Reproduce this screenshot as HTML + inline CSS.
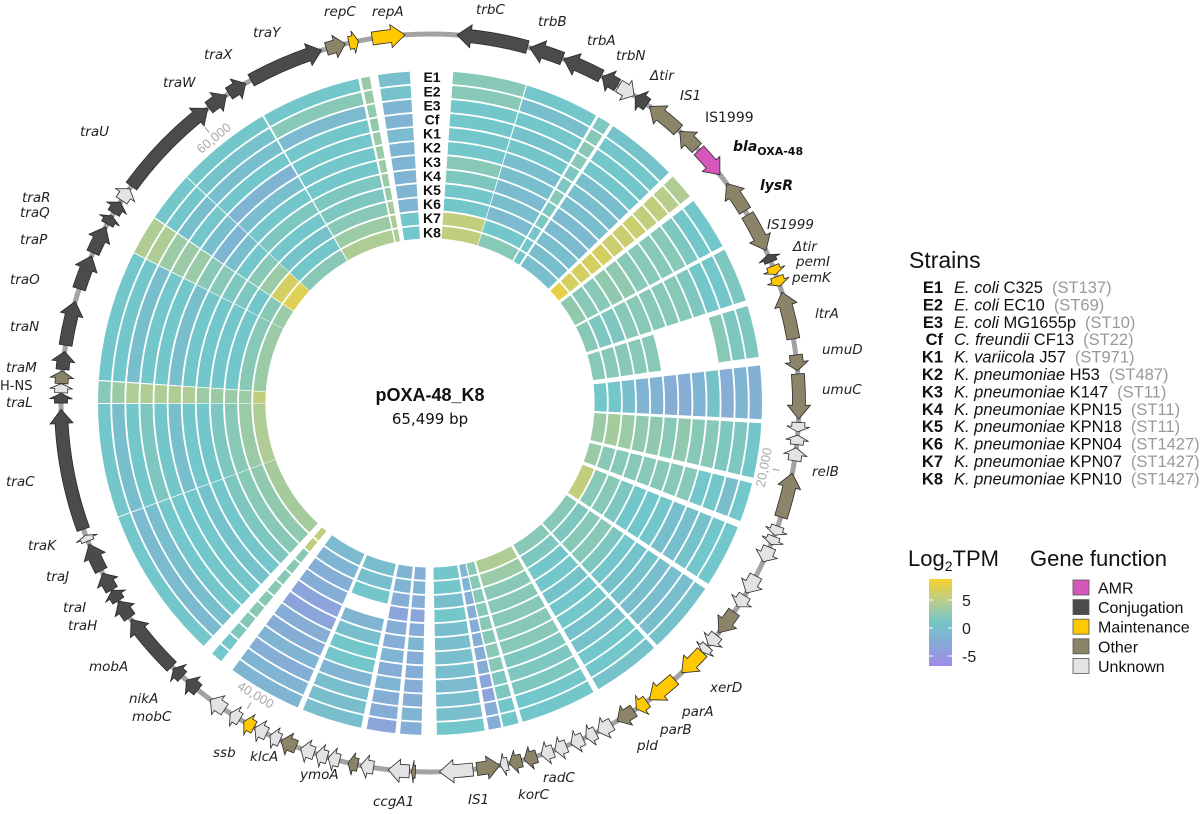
<!DOCTYPE html>
<html><head><meta charset="utf-8">
<style>
html,body{margin:0;padding:0;background:#fff;}
svg{display:block;font-family:"Liberation Sans",sans-serif;}
.gl{font-family:"DejaVu Sans","Liberation Sans",sans-serif;font-style:italic;font-size:13.5px;fill:#222;}
</style></head>
<body>
<svg id="chart" width="1200" height="814" viewBox="0 0 1200 814" xmlns="http://www.w3.org/2000/svg">
<g id="heat"></g>
<g id="track"></g>
<g id="ticks"></g>
<g id="rowlabels"></g>

<text x="430" y="401" text-anchor="middle" font-size="18" font-weight="bold" fill="#111">pOXA-48_K8</text>
<text x="430" y="424" text-anchor="middle" font-size="15" fill="#111" font-family="DejaVu Sans, Liberation Sans, sans-serif">65,499 bp</text>

<g>
<text class="gl" x="324" y="16">repC</text>
<text class="gl" x="372" y="16">repA</text>
<text class="gl" x="476" y="14">trbC</text>
<text class="gl" x="538" y="26">trbB</text>
<text class="gl" x="587" y="45">trbA</text>
<text class="gl" x="616" y="60">trbN</text>
<text class="gl" x="650" y="80">Δtir</text>
<text class="gl" x="680" y="100">IS1</text>
<text x="705" y="122" font-size="14" fill="#222" font-family="DejaVu Sans, Liberation Sans, sans-serif">IS1999</text>
<text x="733" y="151" font-size="14" font-weight="bold" font-style="italic" fill="#111" font-family="DejaVu Sans, Liberation Sans, sans-serif">bla<tspan font-size="11" font-style="normal" dy="4">OXA-48</tspan></text>
<text x="760" y="190" font-size="14" font-weight="bold" font-style="italic" fill="#111" font-family="DejaVu Sans, Liberation Sans, sans-serif">lysR</text>
<text class="gl" x="767" y="229">IS1999</text>
<text class="gl" x="793" y="251">Δtir</text>
<text class="gl" x="796" y="266">pemI</text>
<text class="gl" x="792" y="282">pemK</text>
<text class="gl" x="815" y="318">ltrA</text>
<text class="gl" x="822" y="354">umuD</text>
<text class="gl" x="822" y="394">umuC</text>
<text class="gl" x="812" y="476">relB</text>
<text class="gl" x="710" y="692">xerD</text>
<text class="gl" x="682" y="716">parA</text>
<text class="gl" x="660" y="734">parB</text>
<text class="gl" x="637" y="750">pld</text>
<text class="gl" x="543" y="782">radC</text>
<text class="gl" x="518" y="799">korC</text>
<text class="gl" x="468" y="804">IS1</text>
<text class="gl" x="373" y="806">ccgA1</text>
<text class="gl" x="300" y="779">ymoA</text>
<text class="gl" x="250" y="761">klcA</text>
<text class="gl" x="213" y="757">ssb</text>
<text class="gl" x="129" y="703">nikA</text>
<text class="gl" x="132" y="721">mobC</text>
<text class="gl" x="89" y="671">mobA</text>
<text class="gl" x="68" y="630">traH</text>
<text class="gl" x="63" y="612">traI</text>
<text class="gl" x="46" y="581">traJ</text>
<text class="gl" x="28" y="550">traK</text>
<text class="gl" x="6" y="486">traC</text>
<text class="gl" x="6" y="407">traL</text>
<text x="0" y="390" font-size="13" fill="#222" font-family="DejaVu Sans, Liberation Sans, sans-serif">H-NS</text>
<text class="gl" x="6" y="372">traM</text>
<text class="gl" x="10" y="331">traN</text>
<text class="gl" x="10" y="284">traO</text>
<text class="gl" x="20" y="244">traP</text>
<text class="gl" x="20" y="217">traQ</text>
<text class="gl" x="22" y="202">traR</text>
<text class="gl" x="80" y="136">traU</text>
<text class="gl" x="163" y="87">traW</text>
<text class="gl" x="204" y="59">traX</text>
<text class="gl" x="253" y="37">traY</text>
</g>

<g>
<text x="909" y="268" font-size="23" fill="#111">Strains</text>
<g id="strainRows"></g>
</g>

<g>
<text x="908" y="566" font-size="22" fill="#111">Log<tspan font-size="14" dy="5">2</tspan><tspan dy="-5">TPM</tspan></text>
<defs><linearGradient id="cbg" x1="0" y1="0" x2="0" y2="1">
<stop offset="0" stop-color="#f8d22a"/><stop offset="0.25" stop-color="#b9cd8b"/><stop offset="0.5" stop-color="#73c6c9"/><stop offset="0.75" stop-color="#88a9d8"/><stop offset="1" stop-color="#9e8ce8"/></linearGradient></defs>
<rect x="929" y="579" width="23" height="87" fill="url(#cbg)"/>
<g stroke="#fff" stroke-width="1"><line x1="929" y1="600" x2="933" y2="600"/><line x1="948" y1="600" x2="952" y2="600"/><line x1="929" y1="628" x2="933" y2="628"/><line x1="948" y1="628" x2="952" y2="628"/><line x1="929" y1="656" x2="933" y2="656"/><line x1="948" y1="656" x2="952" y2="656"/></g>
<text x="962" y="606" font-size="16" fill="#222">5</text>
<text x="962" y="634" font-size="16" fill="#222">0</text>
<text x="962" y="662" font-size="16" fill="#222">-5</text>
</g>

<g>
<text x="1030" y="566" font-size="22" fill="#111">Gene function</text>
<g id="funcLegend"></g>
</g>
</svg>
<script>
// ---------------- data ----------------
const genomeLength = 65499;
const strainCodes = ["E1","E2","E3","Cf","K1","K2","K3","K4","K5","K6","K7","K8"];
const strainSpecies = ["E. coli","E. coli","E. coli","C. freundii","K. variicola","K. pneumoniae","K. pneumoniae","K. pneumoniae","K. pneumoniae","K. pneumoniae","K. pneumoniae","K. pneumoniae"];
const strainIds = ["C325","EC10","MG1655p","CF13","J57","H53","K147","KPN15","KPN18","KPN04","KPN07","KPN10"];
const strainST = ["(ST137)","(ST69)","(ST10)","(ST22)","(ST971)","(ST487)","(ST11)","(ST11)","(ST11)","(ST1427)","(ST1427)","(ST1427)"];

const funcNames = ["AMR","Conjugation","Maintenance","Other","Unknown"];
const funcColors = ["#d457b9","#4b4b4b","#ffc800","#8c8469","#e3e3e3"];

// genes (kb), strand, function index
const geneStart = [0.00,2.40,4.49,5.50,6.70,7.24,7.79,8.28,9.39,10.15,11.37,12.44,13.70,14.05,14.37,14.83,16.65,17.19,18.56,18.92,19.28,20.01,21.56,21.87,22.20,23.10,23.74,24.29,25.11,25.51,25.74,26.84,27.84,28.29,29.02,29.53,29.93,30.44,30.84,31.33,31.77,32.17,32.40,33.17,34.80,34.97,35.99,36.44,36.97,37.33,37.72,38.26,38.75,39.17,39.57,40.03,40.54,41.48,42.06,42.47,44.30,44.87,45.23,45.85,46.76,47.12,50.76,51.05,51.31,51.71,52.40,54.04,55.13,56.04,56.40,56.82,57.31,60.44,61.13,61.86,64.17,64.83];
const geneEnd   = [0.93,4.42,5.46,6.66,7.19,7.75,8.19,9.33,10.06,11.06,12.30,13.57,13.92,14.30,14.65,16.19,17.10,18.47,18.83,19.19,19.65,21.29,21.83,22.11,22.65,23.65,24.11,25.02,25.47,25.74,26.56,27.75,28.20,28.84,29.47,29.84,30.30,30.79,31.20,31.70,32.13,32.39,33.06,34.12,34.91,35.57,36.36,36.72,37.30,37.66,38.12,38.72,39.06,39.54,39.90,40.35,41.03,41.90,42.39,44.23,44.85,45.21,45.76,46.67,46.94,50.58,51.03,51.31,51.67,52.22,53.67,55.04,55.95,56.31,56.76,57.22,60.40,61.04,61.68,64.03,64.72,65.10];
const geneStrand = [1,-1,-1,-1,-1,1,-1,-1,-1,1,-1,1,-1,1,1,-1,1,1,1,-1,-1,-1,1,1,1,1,1,1,1,1,1,1,1,1,1,1,1,1,1,1,1,1,-1,1,1,1,1,1,1,1,1,1,1,1,1,1,1,1,1,1,1,1,1,1,1,1,1,1,1,1,1,1,1,1,1,1,1,1,1,1,1,1];
const geneFunc = [2,1,1,1,1,4,1,3,3,0,3,3,1,2,2,3,3,3,4,4,4,3,4,4,4,4,4,3,4,4,2,2,2,3,4,4,4,4,4,3,3,4,3,4,3,4,4,3,4,4,4,3,4,4,2,4,4,1,1,1,1,1,1,1,4,1,1,4,3,1,1,1,1,1,1,4,1,1,1,1,3,2];

// heatmap blocks (kb) and log2 TPM values per strain ring (E1..K8), null = not measured
const blockStart = [0.00,64.95,61.68,58.58,56.95,55.67,51.49,50.76,47.12,42.21,41.48,38.66,36.57,35.48,34.66,32.66,32.13,31.57,29.02,26.66,24.20,22.01,20.56,18.65,16.83,14.92,13.01,11.19,10.19,7.73,7.19,4.73,2.37];
const blockEnd   = [1.00,65.23,64.86,61.62,58.55,56.91,55.64,51.45,50.73,47.09,41.85,41.03,38.48,36.39,35.33,34.17,32.53,32.06,31.44,28.84,26.53,24.02,21.80,20.38,18.52,16.56,14.74,12.88,11.01,10.01,7.61,7.10,4.69];
const blockValues = [
 [-1,-0.5,-2,-2,-1.5,-2,-2,-2,-2,-2,0,0],
 [2,2,1.5,1.5,2,2,2,2,2,2.5,3,3],
 [0,1,-1.5,0,0,0,0,0.5,0.5,1,2,3],
 [0,-0.5,-1,0,-2,-1,0,0.5,0,-0.5,0,1],
 [0,0,-1,0,-1,-2,-1,0,1,2,5,5.5],
 [3,3,2,2,2,1,1,0.5,0.5,0,1,2],
 [0,0,-1,0,0,-1,0,0,0,0,1,2],
 [1,2,3,3,3,3,3,2,2,2,2,4],
 [0,-1,0,0.5,0,-1,0,0,0.5,1,2,3],
 [0,-1.5,-1,0,0,0,-0.5,0,0.5,1,1.5,2.5],
 [0,0,0.5,1,1,1,1,1,1,1,4,4],
 [-2,-2,-3,-2,-3,-3,-4,-4,-3,-3,-2,-1.5],
 [-1,-1,-1,-2,0,0,-1,-2,null,0,-1,-1],
 [-4,-3,-3,-2,-3,-2,-3,-3,-4,-3,-2,-2],
 [-3,-2,-3,-3,-3,-3,-2,-3,-4,-3,-2,-3],
 [0,-1,-1,-1.5,-1,-1,-1,-1,0,-1,0,0],
 [-3,-3,-4,-4,-3,-3,-3,-3,-3,-3,-2,-2],
 [0,0,0.5,0.5,1,1,1,1,1,1,1,1],
 [0,0,0.5,0.5,0.5,1,1,1,1,1,2,3],
 [-0.5,0,0,-0.5,-0.5,0,0,-0.5,0,0,0.5,1],
 [-0.5,-1,-1,-1,-0.5,-0.5,0,0.5,1,1,0.5,1],
 [0,0,-0.5,-1,-1,0,0,0,0.5,1,1,4],
 [0,-1,0,0,1,1,1,1,1,1,1,2],
 [0,0.5,0.5,1,1,1.5,1,1.5,1.5,2,2.5,2],
 [-2.5,-2,-3,-0.5,-2,-3,-3,-2,-2,-1,0,0],
 [0.5,0.5,1,null,null,null,null,1,1,1,1,1],
 [0.5,0,0,0.5,1,1,1,1,1,0.5,0.5,1],
 [0,0,0.5,1,1,1,1,1.5,1.5,1,1,1.5],
 [3,3.5,4,4,4.5,4.5,4.5,5,5,5,5,6],
 [-0.5,0,0,0,-1,-1,-1,-1.5,-1.5,-1,-1,-1],
 [0.5,1,1,1,0.5,0.5,1,0.5,0.5,0,0,0],
 [0,-1,0,-0.5,0,-1,-1,-1.5,-1,-1.5,0,1],
 [1,1,0,0,0,0,1,0.5,0,0,4,4]
];
const tickValues = [20000,40000,60000];
const tickLabels = ["20,000","40,000","60,000"];

// ---------------- geometry ----------------
const NS = "http://www.w3.org/2000/svg";
const CX = 430, CY = 403, RTRACK = 369, ROUT = 332, RPITCH = 14.1, RTHICK = 12.3;
const ANGLE_OFFSET = -9;
function angleOf(kb){ return kb*1000/genomeLength*360 + ANGLE_OFFSET; }
function pt(r,a){ const t=a*Math.PI/180; return [CX + r*Math.sin(t), CY - r*Math.cos(t)]; }
function f(p){ return p[0].toFixed(2)+","+p[1].toFixed(2); }
function sector(r0,r1,a0,a1){
  const large = (a1-a0)>180?1:0;
  return "M"+f(pt(r1,a0))+" A"+r1+","+r1+" 0 "+large+" 1 "+f(pt(r1,a1))+
         " L"+f(pt(r0,a1))+" A"+r0+","+r0+" 0 "+large+" 0 "+f(pt(r0,a0))+" Z";
}
const stops = [[-7,[158,140,232]],[-3.5,[136,169,216]],[0,[115,198,201]],[3.5,[185,205,139]],[7,[248,210,42]]];
function colorOf(v){
  v=Math.max(-7,Math.min(7,v));
  for(let i=0;i<stops.length-1;i++){
    const a=stops[i],b=stops[i+1];
    if(v<=b[0]){const t=(v-a[0])/(b[0]-a[0]);
      const c=a[1].map((x,k)=>Math.round(x+(b[1][k]-x)*t));
      return "rgb("+c.join(",")+")";}
  }
  return "rgb(248,210,42)";
}

// heatmap
const heat = document.getElementById("heat");
blockStart.forEach((s,bi)=>{
  const a0 = angleOf(s), a1 = angleOf(blockEnd[bi]);
  blockValues[bi].forEach((v,ri)=>{
    if(v===null) return;
    const r1 = ROUT - ri*RPITCH, r0 = r1 - RTHICK;
    const p = document.createElementNS(NS,"path");
    p.setAttribute("d", sector(r0,r1,a0,a1));
    p.setAttribute("fill", colorOf(v));
    
    
    heat.appendChild(p);
  });
});

// track + genes
const track = document.getElementById("track");
const circ = document.createElementNS(NS,"circle");
circ.setAttribute("cx",CX); circ.setAttribute("cy",CY); circ.setAttribute("r",RTRACK);
circ.setAttribute("fill","none"); circ.setAttribute("stroke","#a3a3a3"); circ.setAttribute("stroke-width","5");


track.appendChild(circ);

geneStart.forEach((s,gi)=>{
  const a0 = angleOf(s), a1 = angleOf(geneEnd[gi]);
  const span = a1-a0;
  const headDeg = Math.min(14/RTRACK*180/Math.PI, span*0.55);
  const bw=6.5, hw=11.5, r=RTRACK;
  let d;
  if(geneStrand[gi]>0){
    const ah=a1-headDeg;
    d="M"+f(pt(r+bw,a0))+" A"+(r+bw)+","+(r+bw)+" 0 0 1 "+f(pt(r+bw,ah))+" L"+f(pt(r+hw,ah))+" L"+f(pt(r,a1))+" L"+f(pt(r-hw,ah))+" L"+f(pt(r-bw,ah))+" A"+(r-bw)+","+(r-bw)+" 0 0 0 "+f(pt(r-bw,a0))+" Z";
  } else {
    const ah=a0+headDeg;
    d="M"+f(pt(r+bw,a1))+" A"+(r+bw)+","+(r+bw)+" 0 0 0 "+f(pt(r+bw,ah))+" L"+f(pt(r+hw,ah))+" L"+f(pt(r,a0))+" L"+f(pt(r-hw,ah))+" L"+f(pt(r-bw,ah))+" A"+(r-bw)+","+(r-bw)+" 0 0 1 "+f(pt(r-bw,a1))+" Z";
  }
  const p=document.createElementNS(NS,"path");
  p.setAttribute("d",d);
  p.setAttribute("fill",funcColors[geneFunc[gi]]);
  p.setAttribute("stroke","#2a2a2a"); p.setAttribute("stroke-width","0.8");
  
  
  track.appendChild(p);
});

// ticks
const ticks = document.getElementById("ticks");
tickValues.forEach((t,i)=>{
  const a = angleOf(t/1000);
  const l=document.createElementNS(NS,"line");
  const p0=pt(349,a), p1=pt(356,a);
  l.setAttribute("x1",p0[0]); l.setAttribute("y1",p0[1]); l.setAttribute("x2",p1[0]); l.setAttribute("y2",p1[1]);
  l.setAttribute("stroke","#aaa"); l.setAttribute("stroke-width","1.2");
  
  
  ticks.appendChild(l);
  const lp=pt(341,a);
  let rot = a%360; if(rot>90 && rot<270) rot-=180; if(rot>=270) rot-=360;
  const tx=document.createElementNS(NS,"text");
  tx.setAttribute("x",lp[0]); tx.setAttribute("y",lp[1]);
  tx.setAttribute("text-anchor","middle"); tx.setAttribute("dominant-baseline","middle");
  tx.setAttribute("font-size","13"); tx.setAttribute("fill","#aaa");
  tx.setAttribute("transform","rotate("+rot.toFixed(1)+" "+lp[0].toFixed(1)+" "+lp[1].toFixed(1)+")");
  tx.textContent=tickLabels[i];
  
  
  ticks.appendChild(tx);
});

// ring labels
const rl=document.getElementById("rowlabels");
strainCodes.forEach((c,ri)=>{
  const rc = ROUT - ri*RPITCH - RTHICK/2;
  const tx=document.createElementNS(NS,"text");
  tx.setAttribute("x",432); tx.setAttribute("y",(CY-rc+5).toFixed(1));
  tx.setAttribute("text-anchor","middle"); tx.setAttribute("font-size","14");
  tx.setAttribute("font-weight","bold"); tx.setAttribute("fill","#111");
  tx.textContent=c;
  
  
  rl.appendChild(tx);
});

// strains legend
const sr=document.getElementById("strainRows");
strainCodes.forEach((c,i)=>{
  const y=(293+i*17.4).toFixed(1);
  const t=document.createElementNS(NS,"text");
  t.setAttribute("x",943); t.setAttribute("y",y); t.setAttribute("text-anchor","end");
  t.setAttribute("font-size","16.5"); t.setAttribute("font-weight","bold"); t.setAttribute("fill","#111");
  t.textContent=c;
  
  
  sr.appendChild(t);
  const n=document.createElementNS(NS,"text");
  n.setAttribute("x",954); n.setAttribute("y",y); n.setAttribute("font-size","16.5"); n.setAttribute("fill","#111");
  n.setAttribute("xml:space","preserve");
  const s1=document.createElementNS(NS,"tspan"); s1.setAttribute("font-style","italic"); s1.textContent=strainSpecies[i]+" ";
  const s2=document.createElementNS(NS,"tspan"); s2.textContent=strainIds[i];
  const s3=document.createElementNS(NS,"tspan"); s3.setAttribute("fill","#999"); s3.setAttribute("dx","9"); s3.textContent=strainST[i];
  n.appendChild(s1); n.appendChild(s2); n.appendChild(s3);
  
  
  sr.appendChild(n);
});

// function legend
const fl=document.getElementById("funcLegend");
funcNames.forEach((nm,i)=>{
  const y=580+i*19.6;
  const r=document.createElementNS(NS,"rect");
  r.setAttribute("x",1073); r.setAttribute("y",y); r.setAttribute("width",16); r.setAttribute("height",15);
  r.setAttribute("fill",funcColors[i]); r.setAttribute("stroke","#555"); r.setAttribute("stroke-width","0.8");
  
  
  fl.appendChild(r);
  const t=document.createElementNS(NS,"text");
  t.setAttribute("x",1098); t.setAttribute("y",y+13.5); t.setAttribute("font-size","16"); t.setAttribute("fill","#111");
  t.textContent=nm;
  
  
  fl.appendChild(t);
});
</script>
</body></html>
